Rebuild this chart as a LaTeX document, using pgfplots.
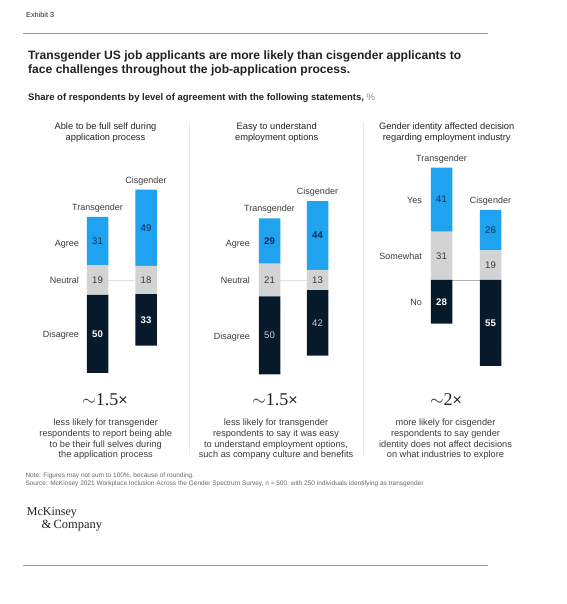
\documentclass[border=0pt]{standalone}
\usepackage{pgfplots}
\pgfplotsset{compat=1.18}
\usepackage{fontspec}
\setmainfont{Liberation Sans}
\newfontfamily\seriffont{Liberation Serif}
\definecolor{mckblue}{HTML}{1FA2F0}
\definecolor{mcknavy}{HTML}{071A2B}
\definecolor{mckgray}{HTML}{D3D3D3}
\definecolor{txt}{HTML}{222222}
\definecolor{labtxt}{HTML}{3A3A3A}
\definecolor{valnavy}{HTML}{0B2B4C}
\newcommand\fsz[2]{\fontsize{#1}{#2}\selectfont}
\tikzset{vl/.style={font=\fsz{9}{10}}, vn/.style={font=\fsz{9.6}{10}}}
\pgfplotsset{canvas/.style={at={(0pt,0pt)}, anchor=south west, scale only axis, width=566pt, height=604pt,
  xmin=0, xmax=566, ymin=-107.69, ymax=279.49, hide axis, clip=false}}
\begin{document}
\begin{tikzpicture}
\begin{axis}[canvas, ybar stacked, bar width=21.5pt]
\addplot[draw=none, fill=none] coordinates {(97.5,40.5) (146,58) (269.5,39.5) (317.5,51.5) (441.5,72) (490.5,45)};
\addplot[draw=none, fill=mcknavy] coordinates {(97.5,50) (146,33) (269.5,50) (317.5,42) (441.5,28) (490.5,55)};
\addplot[draw=none, fill=mckgray] coordinates {(97.5,19) (146,18) (269.5,21) (317.5,13) (441.5,31) (490.5,19)};
\addplot[draw=none, fill=mckblue] coordinates {(97.5,31) (146,49) (269.5,29) (317.5,44) (441.5,41) (490.5,26)};
\draw[color=black!12, line width=0.8pt] (axis cs:108.25,100) -- (axis cs:135.25,100);
\draw[color=black!12, line width=0.8pt] (axis cs:280.25,100) -- (axis cs:306.75,100);
\draw[color=black!30, line width=0.8pt] (axis cs:452.25,100) -- (axis cs:479.75,100);
\end{axis}
\begin{axis}[canvas]
\addplot[draw=none, mark=none] coordinates {(0,0)};
\node[vn, text=white] at (axis cs:97.5,65.5) {\textbf{50}};
\node[vn, text=labtxt] at (axis cs:97.5,100) {19};
\node[vn, text=valnavy] at (axis cs:97.5,125) {31};
\node[vn, text=white] at (axis cs:146,74.5) {\textbf{33}};
\node[vn, text=labtxt] at (axis cs:146,100) {18};
\node[vn, text=valnavy] at (axis cs:146,133.5) {49};
\node[vn, text=black!20] at (axis cs:269.5,64.5) {50};
\node[vn, text=labtxt] at (axis cs:269.5,100) {21};
\node[vn, text=valnavy] at (axis cs:269.5,125) {\textbf{29}};
\node[vn, text=black!20] at (axis cs:317.5,72.5) {42};
\node[vn, text=labtxt] at (axis cs:317.5,100) {13};
\node[vn, text=valnavy] at (axis cs:317.5,128.5) {\textbf{44}};
\node[vn, text=white] at (axis cs:441.5,86) {\textbf{28}};
\node[vn, text=labtxt] at (axis cs:441.5,115.5) {31};
\node[vn, text=valnavy] at (axis cs:441.5,151.5) {41};
\node[vn, text=white] at (axis cs:490.5,72.5) {\textbf{55}};
\node[vn, text=labtxt] at (axis cs:490.5,109.5) {19};
\node[vn, text=valnavy] at (axis cs:490.5,132) {26};
\node[vl, text=labtxt, anchor=east, inner xsep=0pt] at (axis cs:79,123) {Agree};
\node[vl, text=labtxt, anchor=east, inner xsep=0pt] at (axis cs:79,100) {Neutral};
\node[vl, text=labtxt, anchor=east, inner xsep=0pt] at (axis cs:79,64.5) {Disagree};
\node[vl, text=labtxt, anchor=east, inner xsep=0pt] at (axis cs:250,123) {Agree};
\node[vl, text=labtxt, anchor=east, inner xsep=0pt] at (axis cs:250,100) {Neutral};
\node[vl, text=labtxt, anchor=east, inner xsep=0pt] at (axis cs:250,63.5) {Disagree};
\node[vl, text=labtxt, anchor=east, inner xsep=0pt] at (axis cs:422,151) {Yes};
\node[vl, text=labtxt, anchor=east, inner xsep=0pt] at (axis cs:422,115) {Somewhat};
\node[vl, text=labtxt, anchor=east, inner xsep=0pt] at (axis cs:422,85.5) {No};
\node[vl, text=labtxt, anchor=south, yshift=1pt] at (axis cs:97.5,140.5) {Transgender};
\node[vl, text=labtxt, anchor=south, yshift=1pt] at (axis cs:146,158) {Cisgender};
\node[vl, text=labtxt, anchor=south, yshift=1pt] at (axis cs:269.5,139.5) {Transgender};
\node[vl, text=labtxt, anchor=south, yshift=1pt] at (axis cs:317.5,150.5) {Cisgender};
\node[vl, text=labtxt, anchor=south, yshift=1pt] at (axis cs:441.5,172) {Transgender};
\node[vl, text=labtxt, anchor=south, yshift=1pt] at (axis cs:490.5,145) {Cisgender};
\end{axis}
\begin{scope}[x=1pt,y=1pt]
\draw[black!40, line width=0.6pt] (23,570.3) -- (488,570.3);
\draw[black!40, line width=0.6pt] (23,39) -- (488,39);
\draw[black!8, line width=0.6pt] (189,482) -- (189,149);
\draw[black!8, line width=0.6pt] (363,482) -- (363,149);
\node[anchor=west, inner xsep=0pt, text=txt, font=\fsz{7.3}{8}] at (26,589) {Exhibit 3};
\node[anchor=west, inner xsep=0pt, text=txt, font=\bfseries\fsz{12.1}{14}] at (28,547.3) {Transgender US job applicants are more likely than cisgender applicants to};
\node[anchor=west, inner xsep=0pt, text=txt, font=\bfseries\fsz{12.1}{14}] at (28,533.3) {face challenges throughout the job-application process.};
\node[anchor=west, inner xsep=0pt, text=txt, font=\fsz{9.5}{11}] at (28,505.7) {\textbf{Share of respondents by level of agreement with the following statements,} {\color{black!45}\%}};
\node[align=center, text=txt, font=\fsz{9.3}{11}] at (105.5,471.8) {Able to be full self during\\application process};
\node[align=center, text=txt, font=\fsz{9.3}{11}] at (276.7,471.8) {Easy to understand\\employment options};
\node[align=center, text=txt, font=\fsz{9.3}{11}] at (446.7,471.8) {Gender identity affected decision\\regarding employment industry};
\node[text=txt] at (105,204) {\seriffont\fsz{18}{18}$\sim$1.5{\rmfamily\fsz{16}{16}×}};
\node[text=txt] at (275,204) {\seriffont\fsz{18}{18}$\sim$1.5{\rmfamily\fsz{16}{16}×}};
\node[text=txt] at (446,204) {\seriffont\fsz{18}{18}$\sim$2{\rmfamily\fsz{16}{16}×}};
\node[align=center, text=labtxt, font=\fsz{9.2}{10.7}] at (105.7,164.6) {less likely for transgender\\respondents to report being able\\to be their full selves during\\the application process};
\node[align=center, text=labtxt, font=\fsz{9.2}{10.7}] at (276,164.6) {less likely for transgender\\respondents to say it was easy\\to understand employment options,\\such as company culture and benefits};
\node[align=center, text=labtxt, font=\fsz{9.2}{10.7}] at (445.5,164.6) {more likely for cisgender\\respondents to say gender\\identity does not affect decisions\\on what industries to explore};
\node[anchor=west, inner xsep=0pt, text=black!60, font=\fsz{6.5}{7}] at (25.3,128) {Note: Figures may not sum to 100\%, because of rounding.};
\node[anchor=west, inner xsep=0pt, text=black!60, font=\fsz{6.5}{7}] at (25.3,120) {Source: McKinsey 2021 Workplace Inclusion Across the Gender Spectrum Survey, n = 500, with 250 individuals identifying as transgender};
\node[anchor=west, text=txt, font=\seriffont\fsz{12}{12}, inner sep=0pt] at (26.7,91.3) {McKinsey};
\node[anchor=west, text=txt, font=\seriffont\fsz{12.5}{12}, inner sep=0pt] at (41.5,78.3) {\&\,Company};
\pgfresetboundingbox
\path[use as bounding box] (0,0) rectangle (566,604);
\end{scope}
\end{tikzpicture}
\end{document}
